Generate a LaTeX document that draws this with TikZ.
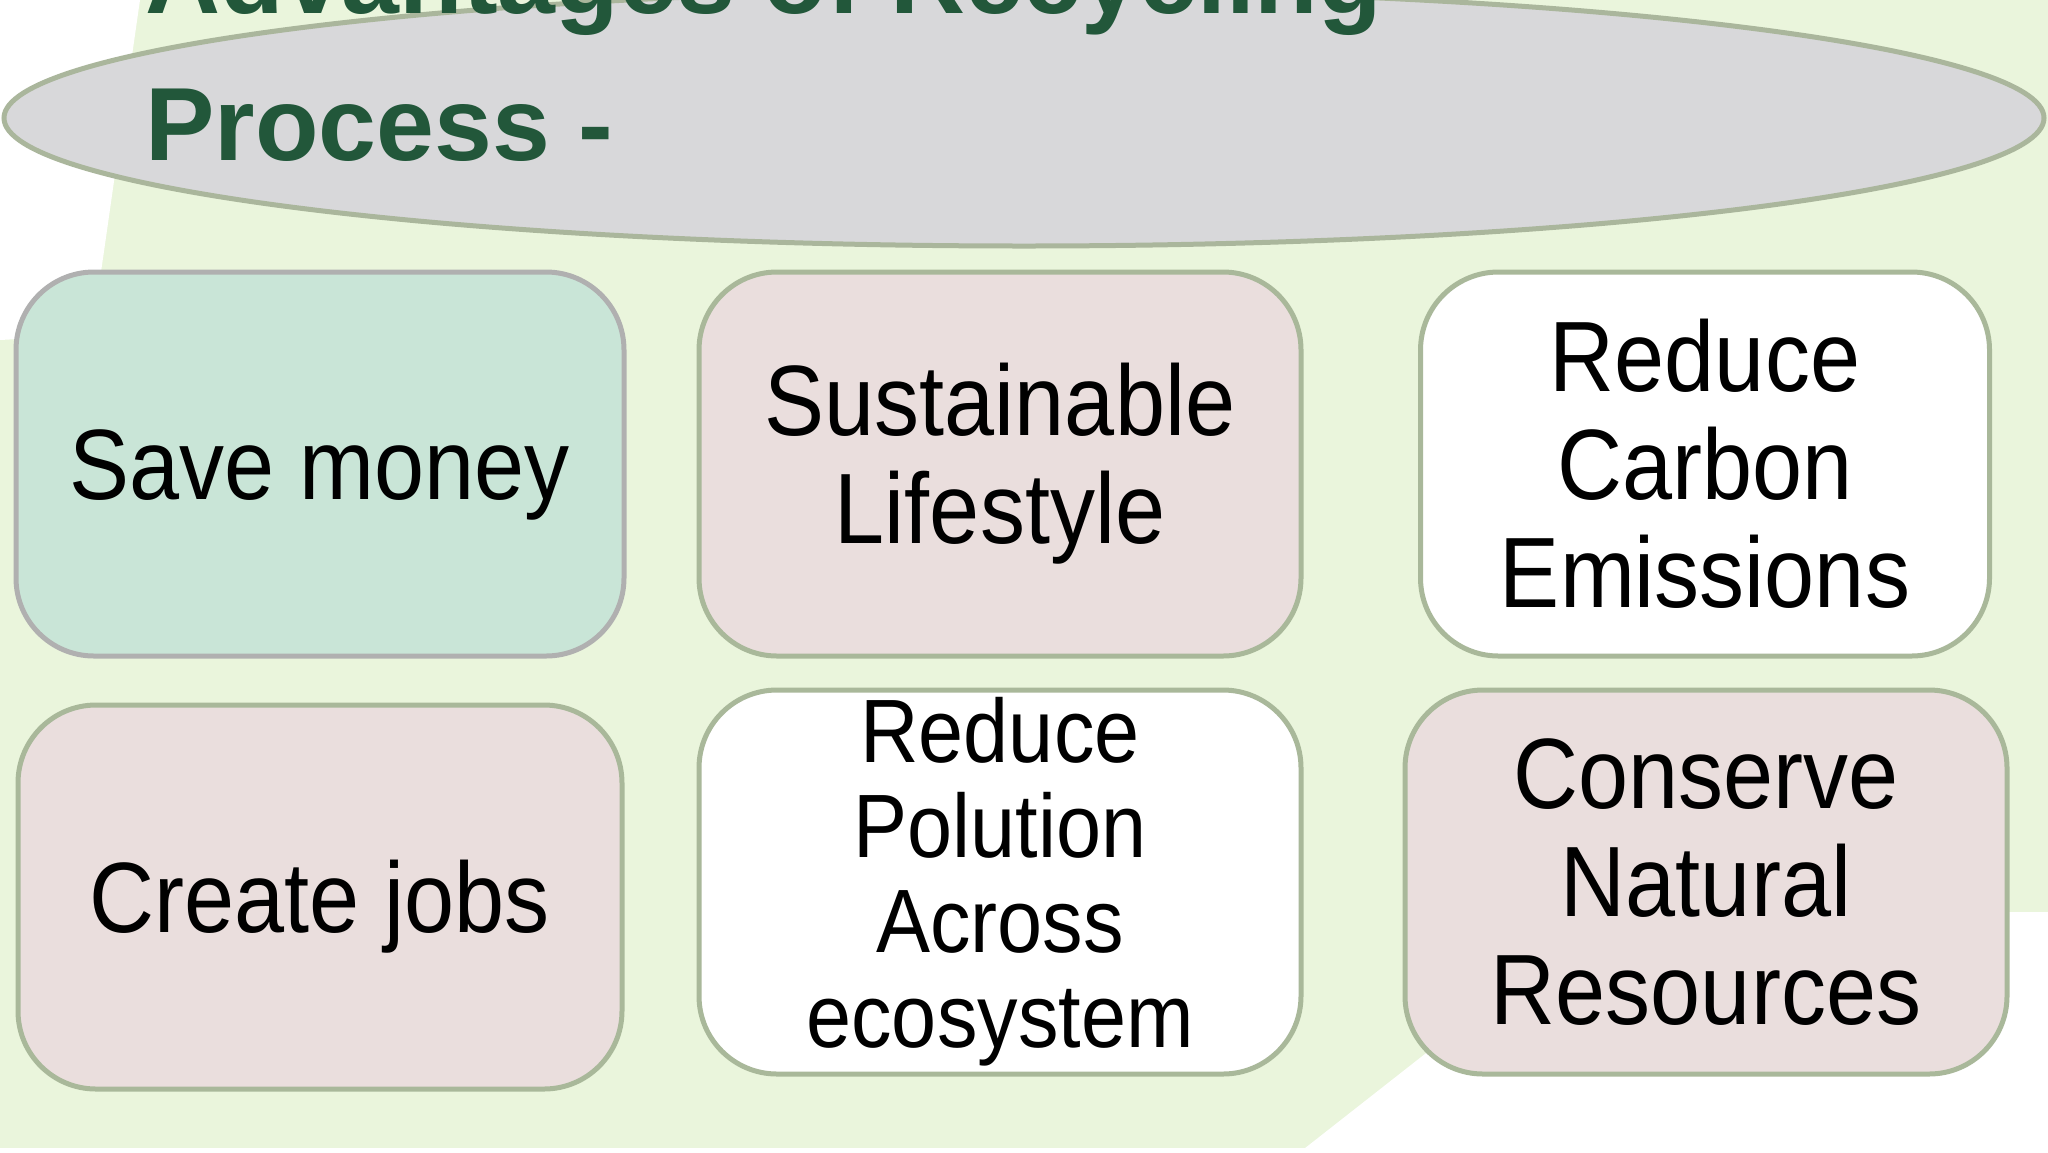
\documentclass[tikz,border=0pt]{standalone}
\usetikzlibrary{shapes.geometric}
\usepackage{fontspec}
\setmainfont{Liberation Sans}
\newfontfamily\cardfont[FakeStretch=0.9]{Liberation Sans}
\definecolor{bggreen}{HTML}{EAF5DC}
\definecolor{ellfill}{HTML}{D8D8DA}
\definecolor{ellline}{HTML}{AAB69C}
\definecolor{titlegreen}{HTML}{22573A}
\definecolor{mint}{HTML}{C9E5D7}
\definecolor{rose}{HTML}{EADEDD}
\definecolor{boxline}{HTML}{A9B89A}
\definecolor{greyline}{HTML}{B0B0B0}
\tikzset{
  card/.style={draw=boxline, line width=2.5pt, rounded corners=39pt, align=center, text=black, inner sep=0pt},
  bigtxt/.style={font=\cardfont\fontsize{50}{54}\selectfont},
  smalltxt/.style={font=\cardfont\fontsize{45}{47.5}\selectfont},
}
\begin{document}
\begin{tikzpicture}[x=0.5pt,y=-0.5pt]
\useasboundingbox (0,0) rectangle (2048,1152);
\fill[bggreen] (0,0) rectangle (2048,1152);
\fill[white] (0,0) -- (140,0) -- (92,335) -- (0,340) -- cycle;
\fill[white] (1300,1152) -- (1430,1050) -- (1797,912) -- (2048,912) -- (2048,1152) -- cycle;
\fill[white] (0,1148) rectangle (2048,1152);
\node[draw=ellline, fill=ellfill, line width=2.5pt, ellipse, minimum width=1020pt, minimum height=128pt, inner sep=0pt] (ell) at (1024,118) {};
\node[anchor=base west, text=titlegreen, font=\fontsize{52}{73}\bfseries\selectfont, inner sep=0pt] (t1) at (145,13) {Advantages of Recycling};
\node[anchor=base west, text=titlegreen, font=\fontsize{52}{73}\bfseries\selectfont, inner sep=0pt] (t2) at (145,160) {Process -};
\node[card, draw=greyline, fill=mint, bigtxt, minimum width=304pt, minimum height=192pt] (a) at (320,464) {\\[-8pt]Save money};
\node[card, fill=rose, bigtxt, minimum width=301pt, minimum height=192pt] (b) at (1000,464) {Sustainable\\Lifestyle};
\node[card, fill=white, bigtxt, minimum width=284.5pt, minimum height=192pt] (c) at (1705,464) {Reduce\\Carbon\\Emissions};
\node[card, fill=rose, bigtxt, minimum width=302pt, minimum height=192pt] (d) at (320,897) {\\[-8pt]Create jobs};
\node[card, fill=white, smalltxt, minimum width=301pt, minimum height=192pt] (e) at (1000,882) {Reduce\\Polution\\Across\\ecosystem};
\node[card, fill=rose, bigtxt, minimum width=301pt, minimum height=192pt] (f) at (1706,882) {Conserve\\Natural\\Resources};
\end{tikzpicture}
\end{document}
